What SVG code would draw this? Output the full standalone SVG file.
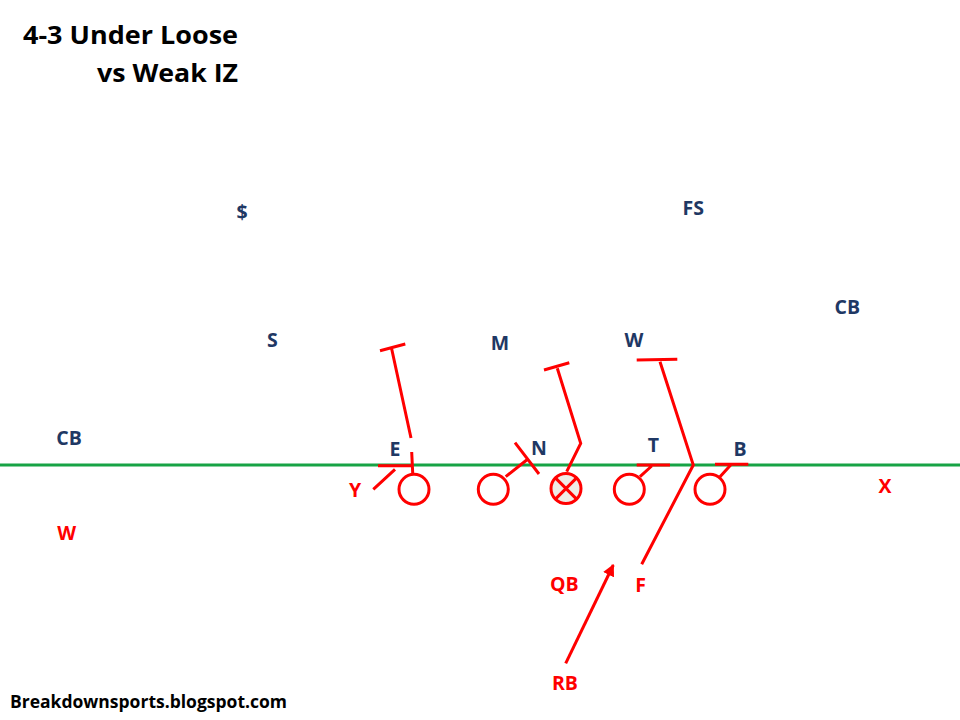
<svg xmlns="http://www.w3.org/2000/svg" width="960" height="720" viewBox="0 0 960 720">
<defs>
<style>
.t{font-family:"Open Sans","Liberation Sans",sans-serif;font-weight:bold;fill:#000}
.d{font-family:"Open Sans","Liberation Sans",sans-serif;font-weight:bold;font-size:19.5px;fill:#1f3864;text-anchor:middle}
.o{font-family:"Open Sans","Liberation Sans",sans-serif;font-weight:bold;font-size:19.5px;fill:#ff0000;text-anchor:middle}
.r{stroke:#ff0000;stroke-width:3;fill:none;stroke-linecap:butt}
.c{stroke:#ff0000;stroke-width:3;fill:#fff}
</style>
<marker id="ah" viewBox="0 0 10 10" refX="9" refY="5" markerWidth="4" markerHeight="4" orient="auto">
<path d="M0,0 L10,5 L0,10 z" fill="#ff0000"/>
</marker>
</defs>
<rect width="960" height="720" fill="#fff"/>
<g id="title">
<text class="t" x="23" y="44" font-size="25" textLength="215" lengthAdjust="spacingAndGlyphs">4-3 Under Loose</text>
<text class="t" x="97" y="82" font-size="25" textLength="141" lengthAdjust="spacingAndGlyphs">vs Weak IZ</text>
</g>
<line id="los" x1="0" y1="465" x2="960" y2="465" stroke="#17a345" stroke-width="3"/>
<g id="connectors">
<path class="r" d="M380,350.7 L405.3,344 M391.7,349 L411,438 M411.7,452 L412.7,473"/>
<path class="r" d="M378,465.7 L411.7,465.7 M373.3,489.3 L395,469.3"/>
<path class="r" d="M505.7,476.7 L526.7,460 M515,442.7 L539,474"/>
<path class="r" d="M566.7,471.7 L580.7,443.3 L557.3,368.3 M544,370 L569.3,362.7"/>
<path class="r" d="M640,476.7 L651.7,466 M636.7,465 L670,465"/>
<path class="r" d="M636.7,360 L677.3,359.3 M660,361.7 L693.3,465 L641.7,564.3"/>
<path class="r" d="M720,476.7 L730.7,465 M715,464.3 L748.3,464.3"/>
<line class="r" x1="565.7" y1="663.3" x2="613.3" y2="565" marker-end="url(#ah)"/>
</g>
<g id="ol1"><circle class="c" cx="414" cy="489.3" r="15"/></g>
<g id="ol2"><circle class="c" cx="493.3" cy="489.3" r="15"/></g>
<g id="center"><circle class="c" cx="566" cy="488.5" r="15" style="fill:#efebe6"/><path class="r" d="M555.4,477.9 L576.6,499.1 M576.6,477.9 L555.4,499.1"/></g>
<g id="ol4"><circle class="c" cx="629.3" cy="489.3" r="15"/></g>
<g id="ol5"><circle class="c" cx="710" cy="489.3" r="15"/></g>
<g id="def-dollar"><text class="d" x="242" y="219">$</text></g>
<g id="def-s"><text class="d" x="272.3" y="347">S</text></g>
<g id="def-fs"><text class="d" x="693.3" y="215">FS</text></g>
<g id="def-cb-r"><text class="d" x="847.3" y="314">CB</text></g>
<g id="def-cb-l"><text class="d" x="69" y="444.5">CB</text></g>
<g id="def-m"><text class="d" x="500" y="350">M</text></g>
<g id="def-w"><text class="d" x="634" y="347">W</text></g>
<g id="def-e"><text class="d" x="395" y="456">E</text></g>
<g id="def-n"><text class="d" x="539" y="455">N</text></g>
<g id="def-t"><text class="d" x="653.3" y="452">T</text></g>
<g id="def-b"><text class="d" x="740" y="456">B</text></g>
<g id="off-y"><text class="o" x="355" y="497">Y</text></g>
<g id="off-w"><text class="o" x="66.7" y="539.5">W</text></g>
<g id="off-x"><text class="o" x="885" y="492.5">X</text></g>
<g id="off-qb"><text class="o" x="564.3" y="591">QB</text></g>
<g id="off-f"><text class="o" x="640.7" y="591.5">F</text></g>
<g id="off-rb"><text class="o" x="565" y="690">RB</text></g>
<g id="footer"><text class="t" x="10" y="708" font-size="17" textLength="277" lengthAdjust="spacingAndGlyphs">Breakdownsports.blogspot.com</text></g>
</svg>
